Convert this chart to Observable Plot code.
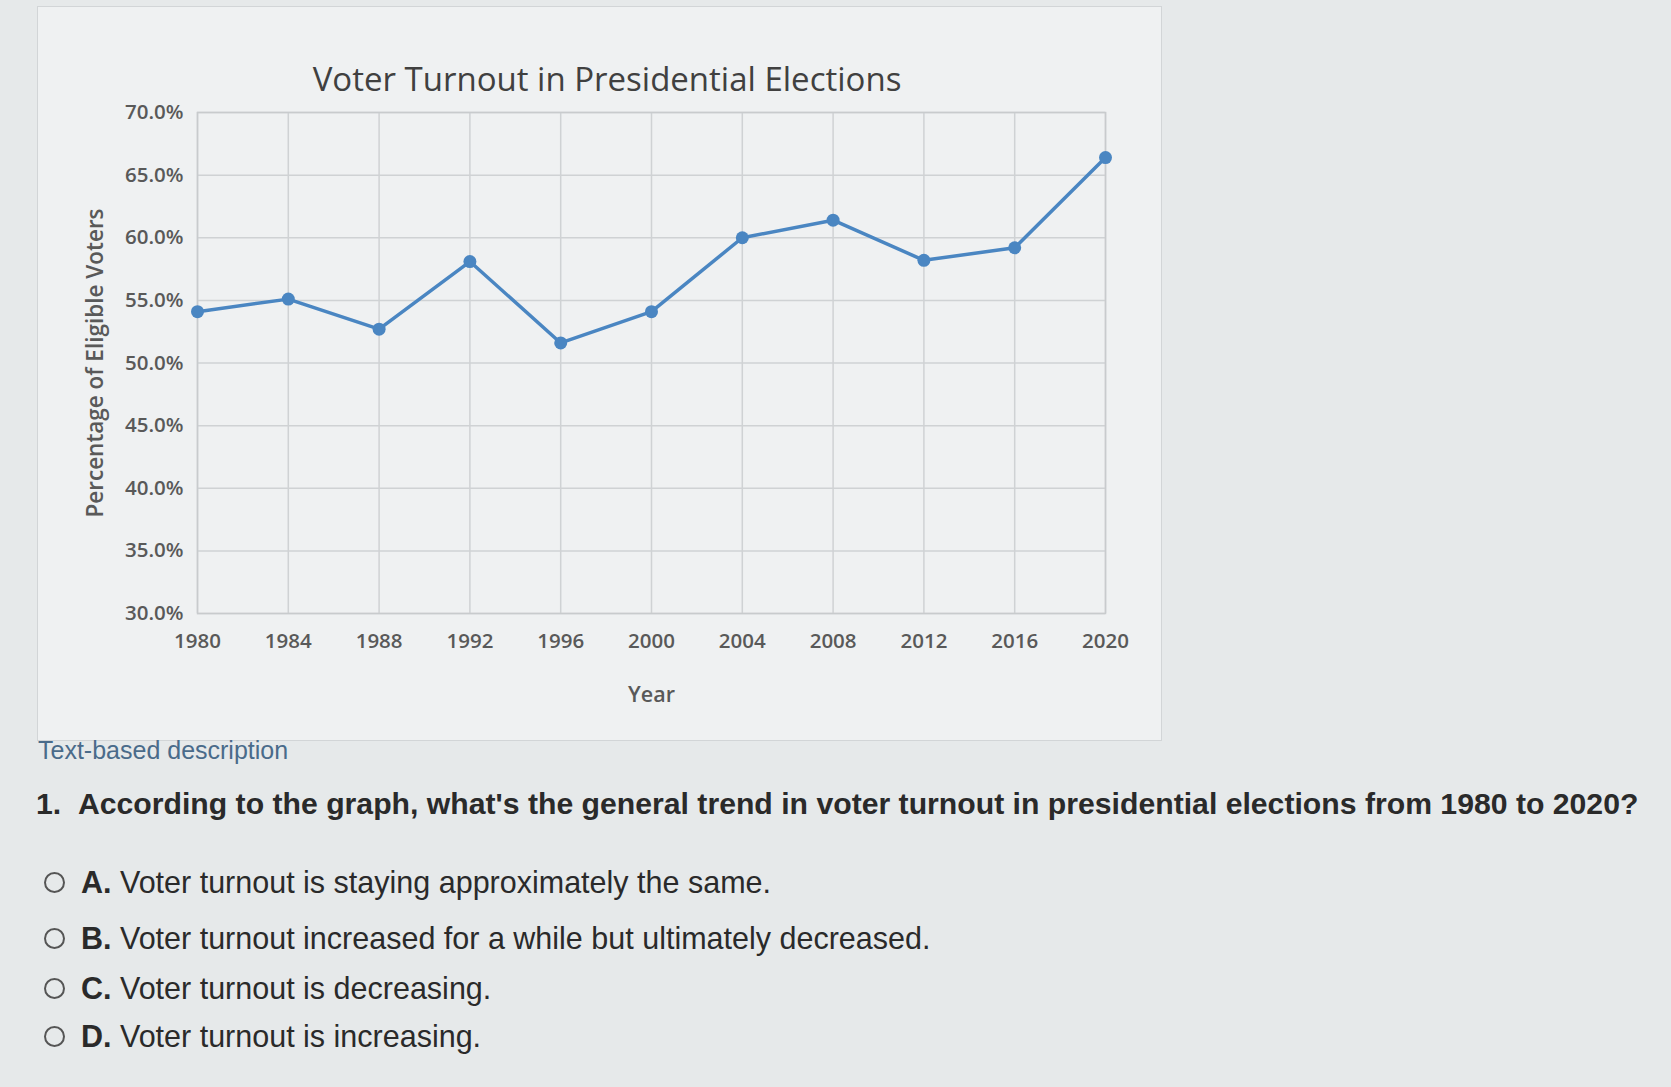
<!DOCTYPE html>
<html>
<head>
<meta charset="utf-8">
<script src="https://cdn.jsdelivr.net/npm/d3@7"></script>
<script src="https://cdn.jsdelivr.net/npm/@observablehq/plot@0.6"></script>
<style>
  html, body { margin: 0; padding: 0; }
  body { width: 1671px; height: 1087px; background: #e6e9ea; position: relative; overflow: hidden; font-family: "Liberation Sans", Arial, sans-serif; }
  #box { position: absolute; left: 37px; top: 6px; width: 1125px; height: 735px; background: #eff1f2; border: 1.5px solid #d2d5d7; box-sizing: border-box; }
  #title { position: absolute; left: 37px; top: 56px; width: 1140px; text-align: center; font-family: "Open Sans", sans-serif; font-size: 33px; color: #404040; }
  #chart { position: absolute; left: 37px; top: 80px; }
  #desc { position: absolute; left: 38px; top: 736px; font-size: 25px; color: #4a6b8a; }
  #q { position: absolute; left: 36px; top: 787px; font-size: 30.2px; font-weight: bold; color: #2a2a2a; white-space: nowrap; }
  .opt { position: absolute; left: 44px; font-size: 30.5px; color: #2a2a2a; white-space: nowrap; }
  .opt .r { display: inline-block; width: 21px; height: 21px; border: 2px solid #555; border-radius: 50%; vertical-align: middle; margin-right: 16px; box-sizing: border-box; position: relative; top: -2px; }
  .opt b { font-weight: bold; }
</style>
</head>
<body>
<div id="box"></div>
<div id="title">Voter Turnout in Presidential Elections</div>
<div id="chart"></div>
<div id="desc">Text-based description</div>
<div id="q">1.&nbsp;&nbsp;According to the graph, what's the general trend in voter turnout in presidential elections from 1980 to 2020?</div>
<div class="opt" style="top:865px"><span class="r"></span><b>A.</b> Voter turnout is staying approximately the same.</div>
<div class="opt" style="top:921px"><span class="r"></span><b>B.</b> Voter turnout increased for a while but ultimately decreased.</div>
<div class="opt" style="top:971px"><span class="r"></span><b>C.</b> Voter turnout is decreasing.</div>
<div class="opt" style="top:1019px"><span class="r"></span><b>D.</b> Voter turnout is increasing.</div>
<script>
const years = [1980, 1984, 1988, 1992, 1996, 2000, 2004, 2008, 2012, 2016, 2020];
const turnout = [54.1, 55.1, 52.7, 58.1, 51.6, 54.1, 60.0, 61.4, 58.2, 59.2, 66.4];
const yTicks = [30, 35, 40, 45, 50, 55, 60, 65, 70];
const xTicks = [1980, 1984, 1988, 1992, 1996, 2000, 2004, 2008, 2012, 2016, 2020];

const data = years.map((y, i) => ({year: y, value: turnout[i]}));

const chart = Plot.plot({
  width: 1110,
  height: 650,
  marginLeft: 160,
  marginRight: 42,
  marginTop: 32,
  marginBottom: 117,
  style: {fontFamily: "'Open Sans', sans-serif", fontSize: "20.5px", fontWeight: 600, color: "#595959", background: "transparent"},
  x: {domain: [1980, 2020], ticks: xTicks, tickFormat: d => String(d), tickSize: 0, tickPadding: 20, label: "Year", labelArrow: "none", labelAnchor: "center", labelOffset: 88},
  y: {domain: [30, 70], ticks: yTicks, tickFormat: d => d.toFixed(1) + "%", tickSize: 0, tickPadding: 14, label: "Percentage of Eligible Voters", labelArrow: "none", labelAnchor: "center", labelOffset: 110},
  marks: [
    Plot.gridX(xTicks, {stroke: "#cfd2d4", strokeOpacity: 1, strokeWidth: 1.5}),
    Plot.gridY(yTicks, {stroke: "#cfd2d4", strokeOpacity: 1, strokeWidth: 1.5}),
    Plot.frame({stroke: "#c8cbcd", strokeWidth: 1.5}),
    Plot.line(data, {x: "year", y: "value", stroke: "#4a86c2", strokeWidth: 3.5}),
    Plot.dot(data, {x: "year", y: "value", fill: "#4a86c2", r: 6.5})
  ]
});
d3.select(chart).selectAll('[aria-label="y-axis label"] text').style("font-size", "22.5px");
d3.select(chart).selectAll('[aria-label="x-axis label"] text').style("font-size", "21.5px");
document.getElementById("chart").appendChild(chart);
</script>
</body>
</html>
